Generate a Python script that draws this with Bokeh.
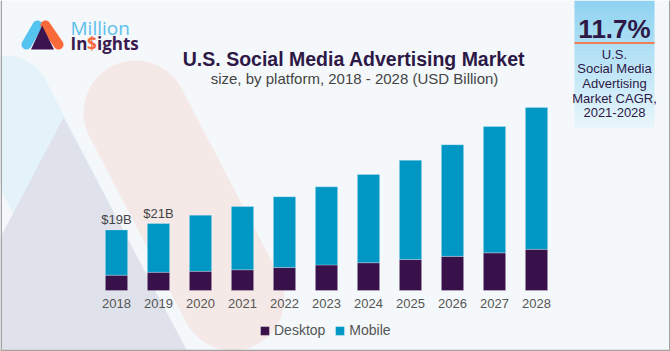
import numpy as np
from bokeh.plotting import figure
from bokeh.models import Range1d, LinearAxis, FixedTicker, ColumnDataSource
from bokeh.core.properties import value
from bokeh.embed import file_html
from bokeh.resources import INLINE

# ---------------- data ----------------
years = [2018, 2019, 2020, 2021, 2022, 2023, 2024, 2025, 2026, 2027, 2028]
year_labels = ["2018", "2019", "2020", "2021", "2022", "2023", "2024", "2025", "2026", "2027", "2028"]
desktop = [4.8, 5.7, 6.0, 6.5, 7.2, 8.0, 8.7, 9.7, 10.7, 11.8, 12.9]
mobile = [14.2, 15.3, 17.6, 19.8, 22.2, 24.5, 27.7, 31.1, 35.0, 39.6, 44.5]
value_labels = ["$19B", "$21B"]
series_names = ["Desktop", "Mobile"]
series_colors = ["#38104A", "#0097C4"]
title_text = "U.S. Social Media Advertising Market"
subtitle_text = "size, by platform, 2018 - 2028 (USD Billion)"
cagr_value = "11.7%"
cagr_lines = ["U.S.", "Social Media", "Advertising", "Market CAGR,", "2021-2028"]

# ---------------- style ----------------
BG = "#F4F8FB"
DARK = "#2D1846"
FONT = "Liberation Sans"
W, H = 670, 351

totals = [d + m for d, m in zip(desktop, mobile)]
src = ColumnDataSource(dict(year=years, Desktop=desktop, Mobile=mobile))

p = figure(width=W, height=H,
           x_range=Range1d(2018 - 116 / 42, 2018 + (W - 116) / 42),
           y_range=Range1d(-(H - 290) / 3.19, 290 / 3.19),
           output_backend="svg", toolbar_location=None,
           x_axis_type=None, y_axis_type=None,
           min_border=0, min_border_left=0, min_border_right=0,
           min_border_top=0, min_border_bottom=0,
           background_fill_color=BG, border_fill_color=BG,
           outline_line_color=None)
p.extra_x_ranges = {"px": Range1d(0, W)}
p.extra_y_ranges = {"px": Range1d(H, 0)}
PX = dict(x_range_name="px", y_range_name="px")


def stadium(x0, y0, x1, y1, r, n=30):
    d = np.array([x1 - x0, y1 - y0], float)
    d /= np.linalg.norm(d)
    ang = np.arctan2(d[1], d[0])
    a1 = np.linspace(ang - np.pi / 2, ang + np.pi / 2, n)
    a0 = np.linspace(ang + np.pi / 2, ang + 3 * np.pi / 2, n)
    xs = np.concatenate([x1 + r * np.cos(a1), x0 + r * np.cos(a0)])
    ys = np.concatenate([y1 + r * np.sin(a1), y0 + r * np.sin(a0)])
    return xs, ys


# background decorations
bx, by = stadium(5, 100, 150, 380, 45)
p.patch(bx, by, fill_color="#E4F2FA", line_color=None, **PX)
p.patch([63, -60, 187], [117, 351, 351], fill_color="#DFE2EA", line_color=None, **PX)
kx, ky = stadium(135, 112, 232, 298, 52)
p.patch(kx, ky, fill_color="#F5E9E7", line_color=None, **PX)

# border lines (left, right, bottom)
p.multi_line([[0.75, 0.75], [669.25, 669.25], [0, 670]], [[0, 351], [0, 351], [350, 350]],
             line_color="#A3A3A3", line_width=1.5, **PX)

# bars
p.vbar_stack(series_names, x="year", width=0.53, color=series_colors, source=src,
             line_color="#FFFFFF", line_alpha=0.25, line_width=1, legend_label=series_names)

# value labels
p.text(x=years[:len(value_labels)], y=totals[:len(value_labels)], text=value_labels,
       text_align="center", text_baseline="bottom", y_offset=-3,
       text_font=value(FONT), text_font_size="13px", text_color="#444444")

# x axis
xaxis = LinearAxis(ticker=FixedTicker(ticks=years), fixed_location=0,
                   major_label_overrides={y: l for y, l in zip(years, year_labels)},
                   axis_line_color=None, major_tick_line_color=None, minor_tick_line_color=None,
                   major_label_text_font_size="13px", major_label_text_color="#555555",
                   major_label_text_font=FONT, major_label_standoff=2)
p.add_layout(xaxis, "below")

# legend
lg = p.legend[0]
lg.orientation = "horizontal"
lg.location = (259, 13)
lg.background_fill_alpha = 0
lg.border_line_color = None
lg.padding = 0
lg.margin = 0
lg.spacing = 9
lg.glyph_width = 11
lg.glyph_height = 11
lg.label_standoff = 4
lg.label_text_font = FONT
lg.label_text_font_size = "14px"
lg.label_text_color = "#555555"

# title / subtitle
p.text(x=[353.5], y=[58], text=[title_text], text_align="center", text_baseline="middle",
       text_font=value(FONT), text_font_style="bold", text_font_size="19.5px",
       text_color=DARK, **PX)
p.text(x=[354], y=[77.5], text=[subtitle_text], text_align="center", text_baseline="middle",
       text_font=value(FONT), text_font_size="15px", text_color="#444444", **PX)

# CAGR box with vertical gradient
n = 40
edges = np.linspace(0, 127, n + 1)
c0 = np.array([0x8F, 0xD3, 0xF1])
c1 = np.array([0xE8, 0xF6, 0xFC])
cols = ["#%02X%02X%02X" % tuple(int(v) for v in (c0 + (c1 - c0) * t)) for t in np.linspace(0, 1, n)]
p.quad(left=[574] * n, right=[654] * n, top=edges[:-1], bottom=edges[1:] + 0.5,
       fill_color=cols, line_color=None, **PX)
p.segment(x0=[574], y0=[42.5], x1=[654], y1=[42.5], line_color="#F07F55", line_width=2, **PX)
p.text(x=[614], y=[28], text=[cagr_value], text_align="center", text_baseline="middle",
       text_font=value(FONT), text_font_style="bold", text_font_size="26px",
       text_color=DARK, **PX)
p.text(x=[614] * len(cagr_lines), y=[53.5 + 14.7 * i for i in range(len(cagr_lines))],
       text=cagr_lines, text_align="center", text_baseline="middle",
       text_font=value(FONT), text_font_size="13px", text_color=DARK, **PX)

# logo
lx, ly = stadium(26, 44, 37, 25, 5)
p.patch(lx, ly, fill_color="#55C3EF", line_color=None, **PX)
ox, oy = stadium(45, 25, 58, 44, 5)
p.patch(ox, oy, fill_color="#F96A3B", line_color=None, **PX)
p.patch([41.7, 30.5, 53.5], [25, 49, 49], fill_color="#3B1450", line_color=None, **PX)
p.text(x=[70], y=[27], text=["Million"], text_align="left", text_baseline="middle",
       text_font=value("Open Sans"), text_font_size="19px", text_color="#5BC0EB", **PX)
p.text(x=[70, 86.5, 96.5], y=[43, 43, 43], text=["In", "$", "ights"], text_align="left",
       text_baseline="middle", text_font=value("Open Sans"), text_font_style="bold",
       text_font_size="17px", text_color=["#3A1A4F", "#F96A3B", "#3A1A4F"], **PX)

open("out.html", "w").write(file_html(p, INLINE))
